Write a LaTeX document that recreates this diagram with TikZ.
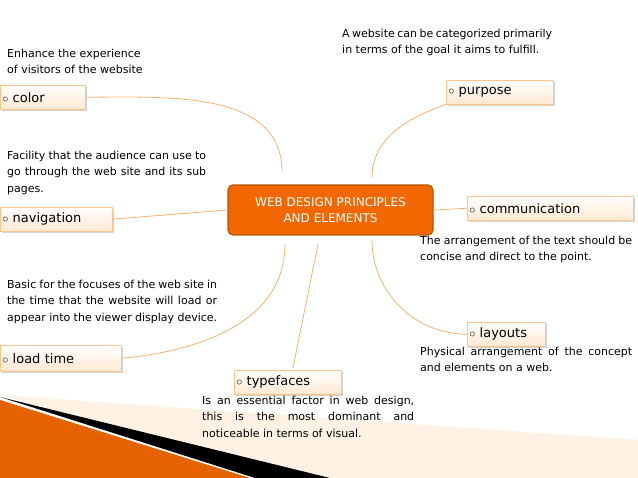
\documentclass[tikz,border=0pt]{standalone}
\usepackage{fontspec}
\setmainfont{DejaVu Sans}
\usetikzlibrary{shadows}
\hyphenpenalty=10000
\tolerance=9999

\tikzset{
  branch/.style={draw=orange!45, top color=white, bottom color=orange!18, drop shadow={opacity=0.35, shadow xshift=2pt, shadow yshift=-2pt},
    font=\fontsize{13}{14}\selectfont, anchor=north west, inner sep=0pt, align=left},
  note/.style={anchor=north west, inner sep=0pt, align=justify, font=\fontsize{11}{16.3}\selectfont},
  link/.style={draw=orange!70!brown!60, line width=0.8pt}
}

\begin{document}
\begin{tikzpicture}[x=1pt, y=-1pt]
\useasboundingbox (0,0) rectangle (638,478);

% swoosh at the bottom
\fill[orange!10] (0,395) -- (638,440) -- (638,478) -- (300,478) -- cycle;
\fill[black] (0,397) -- (330,478) -- (255,478) -- cycle;
\fill[orange!85!red!90!black] (0,400) -- (250,478) -- (0,478) -- cycle;

\node[draw=orange!70!black, fill=orange!85!red!95!black, rounded corners=5pt, line width=1.2pt,
  minimum width=205pt, minimum height=50pt, text=white, align=center,
  font=\fontsize{12}{16}\selectfont] (web) at (330.5,210) {WEB DESIGN PRINCIPLES\\AND ELEMENTS};

\node[branch, text width=85pt, minimum height=24pt] (color) at (0,85) {\,$\circ$ color};
\node[branch, text width=107pt, minimum height=24pt] (purpose) at (446,80) {\,$\circ$ purpose};
\node[branch, text width=112pt, minimum height=24pt] (navigation) at (0,207) {\,$\circ$ navigation};
\node[branch, text width=166pt, minimum height=24pt] (communication) at (467,196) {\,$\circ$ communication};
\node[branch, text width=121pt, minimum height=26pt] (loadtime) at (0,345) {\,$\circ$ load time};
\node[branch, text width=78pt, minimum height=24pt] (layouts) at (467,322) {\,$\circ$ layouts};
\node[branch, text width=107pt, minimum height=24pt] (typefaces) at (234,370) {\,$\circ$ typefaces};

\node[note, text width=173pt] (colornote) at (7,49) {Enhance the experience\\of visitors of the website};
\node[note, text width=210pt] (purposenote) at (342,29) {A website can be categorized primarily in terms of the goal it aims to fulfill.};
\node[note, text width=199pt] (navnote) at (7,151) {Facility that the audience can use to go through the web site and its sub pages.};
\node[note, text width=212pt] (commnote) at (420,236) {The arrangement of the text should be concise and direct to the point.};
\node[note, text width=210pt] (loadnote) at (7,280) {Basic for the focuses of the web site in the time that the website will load or appear into the viewer display device.};
\node[note, text width=212pt] (laynote) at (420,347) {Physical arrangement of the concept and elements on a web.};
\node[note, text width=212pt] (typenote) at (202,396) {Is an essential factor in web design, this is the most dominant and noticeable in terms of visual.};

\coordinate (w1) at (282,172);
\coordinate (w2) at (372,178);
\coordinate (w3) at (285,244);
\coordinate (w4) at (318,244);
\coordinate (w5) at (372,240);
\coordinate (t1) at (293,368);
\draw[link] (color.east) to[out=0, in=90] (w1);
\draw[link] (purpose.south west) to[out=200, in=90] (w2);
\draw[link] (web.west) -- (navigation.east);
\draw[link] (web.east) -- (communication.west);
\draw[link] (loadtime.east) to[out=5, in=-90] (w3);
\draw[link] (t1) -- (w4);
\draw[link] (w5) to[out=-90, in=180] (layouts.west);
\end{tikzpicture}
\end{document}
